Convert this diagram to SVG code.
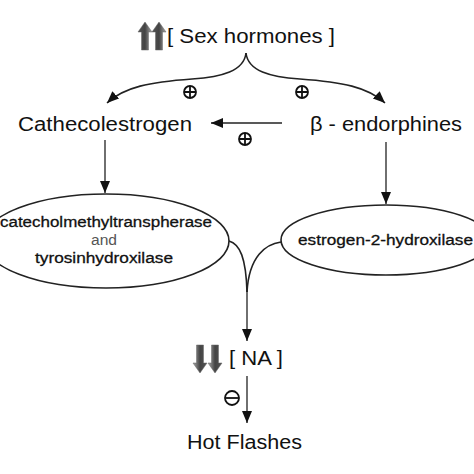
<svg xmlns="http://www.w3.org/2000/svg" width="474" height="474" viewBox="0 0 474 474">
<style>
.t{font-family:"Liberation Sans",Arial,sans-serif;fill:#111;}
.g{fill:#555;}
.ln{fill:none;stroke:#222;stroke-width:1.3;}
.br{fill:none;stroke:#222;stroke-width:1.6;}
.sg{fill:none;stroke:#111;stroke-width:1.8;}
.el{fill:#fff;stroke:#222;stroke-width:1.6;}
</style>
<defs>
<marker id="ah" markerUnits="userSpaceOnUse" markerWidth="14" markerHeight="12" refX="12" refY="5" orient="auto">
<path d="M0,0 L12,5 L0,10 Z" fill="#111"/>
</marker>
<linearGradient id="ag" x1="0" y1="0" x2="1" y2="0">
<stop offset="0" stop-color="#555"/>
<stop offset="0.5" stop-color="#444"/>
<stop offset="1" stop-color="#aaa"/>
</linearGradient>
<g id="plus"><circle r="6" class="sg"/><path d="M-6,0 H6 M0,-6 V6" class="sg" stroke-width="2.6"/></g>
<g id="minus"><circle r="7" class="sg"/><path d="M-6,0 H6" class="sg" stroke-width="2.4"/></g>
<path id="up" d="M7,0 L14,10 L10.5,10 L10.5,28 L3.5,28 L3.5,10 L0,10 Z" fill="url(#ag)" stroke="#666" stroke-width="0.5"/>
</defs>

<g id="sex-hormones">
<use href="#up" x="138" y="22"/>
<use href="#up" x="152" y="22"/>
<text class="t" x="167" y="43" font-size="20" textLength="168" lengthAdjust="spacingAndGlyphs">[ Sex hormones ]</text>
</g>

<g id="cathecolestrogen">
<text class="t" x="18" y="131" font-size="20" textLength="174" lengthAdjust="spacingAndGlyphs">Cathecolestrogen</text>
</g>

<g id="beta-endorphines">
<text class="t" x="310" y="131" font-size="20" textLength="152" lengthAdjust="spacingAndGlyphs">β - endorphines</text>
</g>

<g id="enzymes-left">
<ellipse class="el" cx="106" cy="241" rx="123" ry="47"/>
<text class="t" x="106" y="227" font-size="15.5" text-anchor="middle" textLength="212" lengthAdjust="spacingAndGlyphs" stroke="#111" stroke-width="0.3">catecholmethyltranspherase</text>
<text class="t g" x="104" y="245" font-size="14" text-anchor="middle" textLength="26" lengthAdjust="spacingAndGlyphs">and</text>
<text class="t" x="104" y="263" font-size="15.5" text-anchor="middle" textLength="138" lengthAdjust="spacingAndGlyphs" stroke="#111" stroke-width="0.3">tyrosinhydroxilase</text>
</g>

<g id="enzyme-right">
<ellipse class="el" cx="386" cy="240" rx="105" ry="35"/>
<text class="t" x="298" y="245" font-size="15.5" textLength="175" lengthAdjust="spacingAndGlyphs" stroke="#111" stroke-width="0.3">estrogen-2-hydroxilase</text>
</g>

<g id="na">
<g transform="translate(207,373) rotate(180)"><use href="#up" x="0" y="0"/></g>
<g transform="translate(222,373) rotate(180)"><use href="#up" x="0" y="0"/></g>
<text class="t" x="229" y="365" font-size="20" textLength="54" lengthAdjust="spacingAndGlyphs">[ NA ]</text>
</g>

<g id="hot-flashes">
<text class="t" x="187" y="449" font-size="20" textLength="115" lengthAdjust="spacingAndGlyphs">Hot Flashes</text>
</g>

<g id="connectors">
<path class="br" d="M246,53 C244,71 222,77 192,79 C150,82 124,87 107,103" marker-end="url(#ah)"/>
<path class="br" d="M246,53 C248,71 270,77 300,79 C342,82 368,87 385,103" marker-end="url(#ah)"/>
<path class="ln" d="M282,123 L211,123" marker-end="url(#ah)"/>
<path class="ln" d="M105,140 L105,193" marker-end="url(#ah)"/>
<path class="ln" d="M386,142 L386,204" marker-end="url(#ah)"/>
<path class="br" d="M229,241 C240,244 246,258 247,292"/>
<path class="br" d="M281,242 C266,244 249,256 247,292"/>
<path class="ln" d="M247,290 L247,341" marker-end="url(#ah)"/>
<path class="ln" d="M247,376 L247,423" marker-end="url(#ah)"/>
<use href="#plus" x="190" y="92"/>
<use href="#plus" x="302" y="92"/>
<use href="#plus" x="245" y="139"/>
<use href="#minus" x="232" y="398"/>
</g>
</svg>
